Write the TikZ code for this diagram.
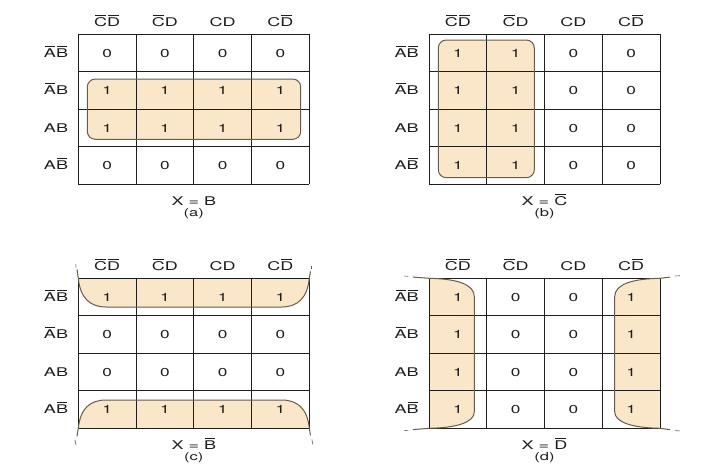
\documentclass[tikz,border=0pt]{standalone}
\usepackage{fontspec}
\setmainfont{TeX Gyre Heros}
\definecolor{gridc}{RGB}{30,30,30}
\definecolor{txtc}{RGB}{30,30,30}
\definecolor{loopc}{RGB}{250,231,202}
\definecolor{loopd}{RGB}{105,92,72}
\newcommand{\ob}[1]{{\setbox0\hbox{#1}\rlap{\kern0.7pt\raisebox{\dimexpr\ht0+2pt\relax}{\rule{\dimexpr\wd0-1.4pt\relax}{0.75pt}}}\box0}}
\newcommand{\kgrid}[4]{%
  \foreach \k in {0,...,4}{%
    \draw[gridline] (\k*57.75,0) -- (\k*57.75,150);
    \draw[gridline] (0,\k*37.5) -- (231,\k*37.5);
  }
  \foreach \h [count=\c from 0] in {{\ob{C}\ob{D}},{\ob{C}D},{CD},{C\ob{D}}}{%
    \node[lab,anchor=base] (#1-h\c) at (28.875+\c*57.75,-7.4) {\h};
  }
  \foreach \h [count=\c from 0] in {{\ob{A}\ob{B}},{\ob{A}B},{AB},{A\ob{B}}}{%
    \node[lab,anchor=base] (#1-r\c) at (-22.3,23+\c*37.5) {\h};
  }
  \foreach \v [count=\i from 0] in {#2}{%
    \pgfmathtruncatemacro\rr{\i/4}%
    \pgfmathtruncatemacro\cc{mod(\i,4)}%
    \node[cell] (#1-\rr-\cc) at (28.875+\cc*57.75,18.75+\rr*37.5) {\v};
  }
  \node[captext,anchor=base] (#1-cap) at (115.5,171.5) {#3};
  \node[subtext,anchor=base] (#1-sub) at (115.5,182) {(#4)};
}
\begin{document}
\begin{tikzpicture}[x=1pt,y=-1pt,
  gridline/.style={draw=gridc,line width=1pt},
  loopfill/.style={fill=loopc},
  loopline/.style={draw=loopd,line width=1pt},
  stretch/.style={xscale=1.5,transform shape,text=txtc,inner sep=0pt},
  lab/.style={stretch,font=\fontsize{12}{13}\selectfont},
  cell/.style={stretch,font=\fontsize{11.5}{13}\selectfont},
  captext/.style={stretch,font=\fontsize{12}{13}\selectfont},
  subtext/.style={stretch,font=\fontsize{11}{13}\selectfont},
  tickmark/.style={draw=gridc!70,line width=0.6pt}]
\fill[white] (0,0) rectangle (703,471);
\useasboundingbox (0,0) rectangle (703,471);
% (a)
\begin{scope}[shift={(78.3,34.3)}]
  \fill[loopfill,rounded corners=8pt] (9,44.7) rectangle (222.4,105);
  \kgrid{a}{0,0,0,0,1,1,1,1,1,1,1,1,0,0,0,0}{X = B}{a}
  \draw[loopline,rounded corners=8pt] (9,44.7) rectangle (222.4,105);
\end{scope}
% (b)
\begin{scope}[shift={(429,34.3)}]
  \fill[loopfill,rounded corners=8pt] (9.3,5.7) rectangle (105.3,143.4);
  \kgrid{b}{1,1,0,0,1,1,0,0,1,1,0,0,1,1,0,0}{X = \ob{C}}{b}
  \draw[loopline,rounded corners=8pt] (9.3,5.7) rectangle (105.3,143.4);
\end{scope}
% (c)
\begin{scope}[shift={(78.3,278.3)}]
  \fill[loopfill] (0,0) .. controls (2,20) and (12,28.7) .. (27.7,28.7) -- (203.3,28.7)
     .. controls (219,28.7) and (229,20) .. (231,0) -- cycle;
  \fill[loopfill] (0,150) .. controls (2,130) and (12,121.7) .. (27.7,121.7) -- (203.3,121.7)
     .. controls (219,121.7) and (229,130) .. (231,150) -- cycle;
  \kgrid{c}{1,1,1,1,0,0,0,0,0,0,0,0,1,1,1,1}{X = \ob{B}}{c}
  \draw[loopline] (-1.3,-9) -- (0,0) .. controls (2,20) and (12,28.7) .. (27.7,28.7) -- (203.3,28.7)
     .. controls (219,28.7) and (229,20) .. (231,0) -- (232.2,-7);
  \draw[loopline] (-1.3,158) -- (0,150) .. controls (2,130) and (12,121.7) .. (27.7,121.7) -- (203.3,121.7)
     .. controls (219,121.7) and (229,130) .. (231,150) -- (232.2,157);
  \draw[tickmark] (-2.6,-14) -- (-2.2,-10.6);
  \draw[tickmark] (233.4,-12.3) -- (233.4,-9.3);
  \draw[tickmark] (-3.3,161.7) -- (-2.3,166.7);
  \draw[tickmark] (233.6,161) -- (234.4,166);
\end{scope}
% (d)
\begin{scope}[shift={(429,278.3)}]
  \fill[loopfill] (0,0) .. controls (28,0.5) and (45.3,6) .. (45.3,18.4) -- (45.3,133.4)
     .. controls (45.3,144) and (28,149.5) .. (0,150) -- cycle;
  \fill[loopfill] (231,0) .. controls (203,0.5) and (185.7,6) .. (185.7,18.4) -- (185.7,133.4)
     .. controls (185.7,144) and (203,149.5) .. (231,150) -- cycle;
  \kgrid{d}{1,0,0,1,1,0,0,1,1,0,0,1,1,0,0,1}{X = \ob{D}}{d}
  \draw[loopline] (-16,-1.2) -- (0,0) .. controls (28,0.5) and (45.3,6) .. (45.3,18.4) -- (45.3,133.4)
     .. controls (45.3,144) and (28,149.5) .. (0,150) -- (-16,151.3);
  \draw[loopline] (241,-1.2) -- (231,0) .. controls (203,0.5) and (185.7,6) .. (185.7,18.4) -- (185.7,133.4)
     .. controls (185.7,144) and (203,149.5) .. (231,150) -- (241,151.3);
  \draw[tickmark] (-24.7,-2.3) -- (-20.7,-2);
  \draw[tickmark] (246,-2.3) -- (251,-2.6);
  \draw[tickmark] (-24.7,152.3) -- (-20.7,152);
  \draw[tickmark] (246,152.3) -- (251,152.6);
\end{scope}
\end{tikzpicture}
\end{document}
